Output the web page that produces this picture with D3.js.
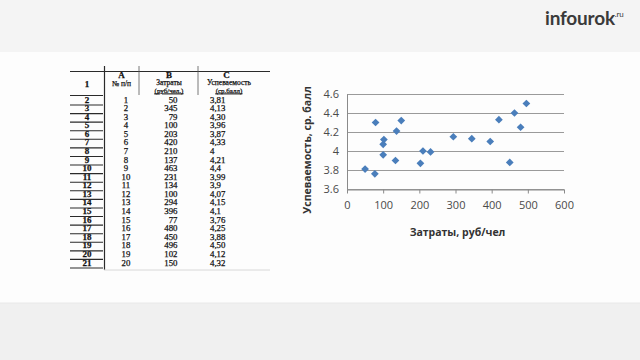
<!DOCTYPE html>
<html><head><meta charset="utf-8">
<script src="https://cdn.jsdelivr.net/npm/d3@7"></script>
<style>html,body{margin:0;padding:0;background:#fdfdfd;}svg{display:block;}</style>
</head><body>
<svg id="c" width="640" height="360"></svg>
<script>
// ---- data ----
const rowNums = [2,3,4,5,6,7,8,9,10,11,12,13,14,15,16,17,18,19,20,21];
const ids = [1,2,3,4,5,6,7,8,9,10,11,12,13,14,15,16,17,18,19,20];
const costs = [50,345,79,100,203,420,210,137,463,231,134,100,294,396,77,480,450,496,102,150];
const scores = [3.81,4.13,4.30,3.96,3.87,4.33,4,4.21,4.4,3.99,3.9,4.07,4.15,4.1,3.76,4.25,3.88,4.50,4.12,4.32];
const scoreText = ["3,81","4,13","4,30","3,96","3,87","4,33","4","4,21","4,4","3,99","3,9","4,07","4,15","4,1","3,76","4,25","3,88","4,50","4,12","4,32"];
const colLetters = ["A","B","C"];
const xTicks = [0,100,200,300,400,500,600];
const yTicks = [3.6,3.8,4.0,4.2,4.4,4.6];
const xTitle = "Затраты, руб/чел";
const yTitle = "Успеваемость, ср. балл";

const svg = d3.select("#c");

// ---- slide background ----
svg.append("rect").attr("x",0).attr("y",0).attr("width",640).attr("height",360).attr("fill","#fdfdfd");
svg.append("rect").attr("x",0).attr("y",0).attr("width",640).attr("height",52).attr("fill","#f4f4f4");
svg.append("rect").attr("x",0).attr("y",303).attr("width",640).attr("height",57).attr("fill","#f0f0f0");
svg.append("line").attr("x1",0).attr("x2",640).attr("y1",303).attr("y2",303).attr("stroke","#e8e8e8");

// logo
const logo = svg.append("text").attr("x",545).attr("y",25)
  .attr("font-family","Lato, 'Open Sans', sans-serif").attr("font-weight","bold")
  .attr("font-size",19).attr("fill","#3a3a3a").attr("letter-spacing","-0.2");
logo.append("tspan").text("infourok");
logo.append("tspan").attr("font-size",8).attr("dy",-8).attr("font-weight","normal").text(".ru");

// ---- table ----
const tf = "'Liberation Serif', 'DejaVu Serif', serif";
const T = svg.append("g").attr("font-family",tf).attr("fill","#111").attr("stroke","#111").attr("stroke-width",0.25);
const rowY = d3.scaleLinear().domain([2,21]).range([102.5,265.5]);
const ink = "#2a2a2a";
const L = svg.append("g");
// top line
L.append("line").attr("x1",70).attr("x2",270).attr("y1",71.5).attr("y2",71.5).attr("stroke",ink).attr("stroke-width",1);
// vertical separators
L.append("line").attr("x1",104.5).attr("x2",104.5).attr("y1",66).attr("y2",270).attr("stroke",ink).attr("stroke-width",1.2);
[139,198].forEach(x=>L.append("line").attr("x1",x).attr("x2",x).attr("y1",66).attr("y2",95).attr("stroke","#555").attr("stroke-width",0.8));
// column letters
const letterX = [121.5,169,226.5];
colLetters.forEach((l,i)=>T.append("text").attr("x",letterX[i]).attr("y",77.5).attr("text-anchor","middle")
  .attr("font-size",9).attr("font-weight","bold").text(l));
// header row
T.append("text").attr("x",87).attr("y",87).attr("text-anchor","middle").attr("font-size",9).attr("font-weight","bold").text("1");
L.append("line").attr("x1",70).attr("x2",103).attr("y1",95.5).attr("y2",95.5).attr("stroke",ink).attr("stroke-width",1.2);
T.append("text").attr("x",121.5).attr("y",85.5).attr("text-anchor","middle").attr("font-size",7.5).text("№ п/п");
T.append("text").attr("x",169).attr("y",85).attr("text-anchor","middle").attr("font-size",7.5).text("Затраты");
T.append("text").attr("x",169).attr("y",92.5).attr("text-anchor","middle").attr("font-size",7).attr("text-decoration","underline").text("(руб/чел.)");
T.append("text").attr("x",229).attr("y",85).attr("text-anchor","middle").attr("font-size",7.5).text("Успеваемость");
T.append("text").attr("x",229).attr("y",92.5).attr("text-anchor","middle").attr("font-size",7).attr("text-decoration","underline").text("(ср.балл)");
// body rows
rowNums.forEach((r,i)=>{
  const y = rowY(r);
  T.append("text").attr("x",87).attr("y",y).attr("text-anchor","middle").attr("font-size",9).attr("font-weight","bold").text(r);
  L.append("line").attr("x1",70).attr("x2",103).attr("y1",y+2.5).attr("y2",y+2.5).attr("stroke",ink).attr("stroke-width",1.1);
  T.append("text").attr("x",126).attr("y",y).attr("text-anchor","middle").attr("font-size",8.8).text(ids[i]);
  T.append("text").attr("x",177.5).attr("y",y).attr("text-anchor","end").attr("font-size",8.8).text(costs[i]);
  T.append("text").attr("x",210).attr("y",y).attr("text-anchor","start").attr("font-size",8.8).text(scoreText[i]);
});
L.append("line").attr("x1",104).attr("x2",270).attr("y1",270).attr("y2",270).attr("stroke","#d8d8d8").attr("stroke-width",1);

// ---- scatter chart ----
const x = d3.scaleLinear().domain([0,600]).range([347,564]);
const y = d3.scaleLinear().domain([3.6,4.6]).range([189,94]);
const cf = "'Open Sans', 'Liberation Sans', sans-serif";
const G = svg.append("g");
// gridlines
G.selectAll("line.grid").data(yTicks).join("line").attr("class","grid")
  .attr("x1",x(0)).attr("x2",x(600)).attr("y1",d=>Math.round(y(d))+0.5).attr("y2",d=>Math.round(y(d))+0.5)
  .attr("stroke","#9a9a9a").attr("stroke-width",1);
// y axis
const yAxis = d3.axisLeft(y).tickValues(yTicks).tickSize(0).tickPadding(8).tickFormat(d=>String(+d.toFixed(1)));
const ya = G.append("g").attr("transform",`translate(${x(0)},0)`).call(yAxis);
ya.select(".domain").attr("stroke","#8a8a8a");
ya.selectAll("text").attr("font-family",cf).attr("font-size",11).attr("fill","#4a4a4a");
// x axis
const xAxis = d3.axisBottom(x).tickValues(xTicks).tickSize(4).tickPadding(8).tickSizeOuter(0);
const xa = G.append("g").attr("transform",`translate(0,${Math.round(y(3.6))+0.5})`).call(xAxis);
xa.select(".domain").attr("stroke","#8a8a8a");
xa.selectAll(".tick line").attr("stroke","#8a8a8a");
xa.selectAll("text").attr("font-family",cf).attr("font-size",11).attr("fill","#4a4a4a");
// titles
G.append("text").attr("x",(x(0)+x(600))/2+2).attr("y",236).attr("text-anchor","middle")
  .attr("font-family",cf).attr("font-weight","bold").attr("font-size",10.5).attr("fill","#333").text(xTitle);
G.append("text").attr("transform","translate(311,150) rotate(-90)").attr("text-anchor","middle")
  .attr("font-family",cf).attr("font-weight","bold").attr("font-size",10.5).attr("fill","#333").text(yTitle);
// points
G.selectAll("path.pt").data(costs.map((c,i)=>[c,scores[i]])).join("path").attr("class","pt")
  .attr("d",d3.symbol().type(d3.symbolSquare).size(30))
  .attr("transform",d=>`translate(${x(d[0])},${y(d[1])}) rotate(45)`)
  .attr("fill","#4a7ebb");
</script>
</body></html>
